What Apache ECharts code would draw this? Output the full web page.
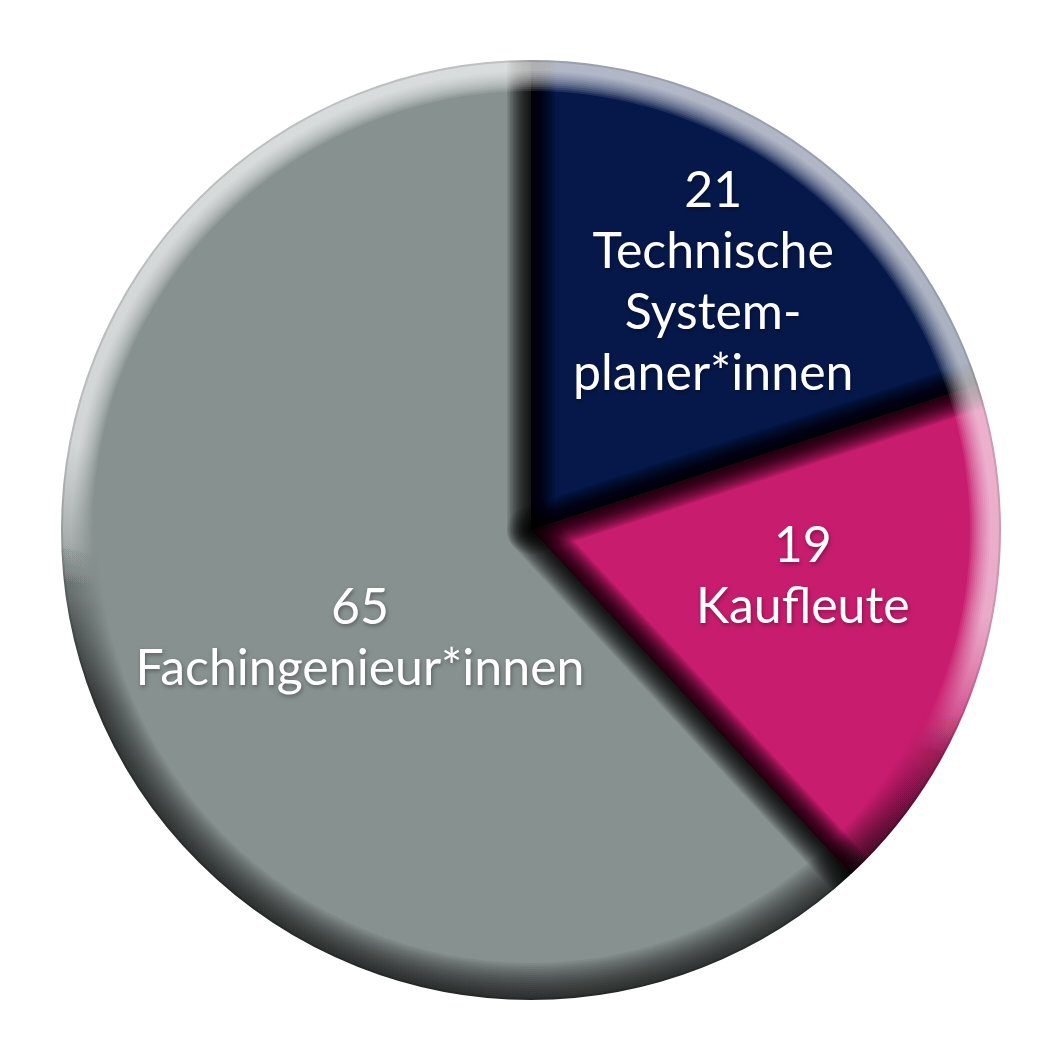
<!DOCTYPE html>
<html><head><meta charset="utf-8">
<script src="https://cdn.jsdelivr.net/npm/echarts@6/dist/echarts.min.js"></script>
<style>html,body{margin:0;padding:0;background:#fff}#c{width:1063px;height:1063px}</style>
</head><body><div id="c"></div>
<script>
const categories = ['Technische\nSystem-\nplaner*innen', 'Kaufleute', 'Fachingenieur*innen'];
const values = [21, 19, 65];
const colors = ['#061849', '#c81c6e', '#879190'];
const labelShift = [[42, -55], [41, -14], [51, 21]];

const CX = 531, CY = 530, R = 471;
const chart = echarts.init(document.getElementById('c'), null, {renderer: 'canvas'});

function pieBase(extra) {
  return Object.assign({
    type: 'pie', center: [CX, CY], startAngle: 90, clockwise: true, silent: true,
    label: {show: false}, labelLine: {show: false}, emphasis: {disabled: true}
  }, extra);
}
function sliceData(style) {
  return categories.map((n, i) => ({name: n, value: values[i], itemStyle: typeof style === 'function' ? style(i) : style}));
}
const series = [];
// base slices
series.push(pieBase({radius: [0, R], data: sliceData(i => ({color: colors[i], borderWidth: 0}))}));
// soft dark bevel along the straight slice edges (outer arc pushed outside and masked)
for (let w = 48; w >= 3; w -= 3) {
  series.push(pieBase({
    radius: [0, R + 30],
    data: sliceData({color: 'rgba(0,0,0,0)', borderColor: 'rgba(0,0,0,0.046)', borderWidth: w, borderJoin: 'round'})
  }));
}
// rim: nested rings that all reach the outer edge, so the effect builds up smoothly
const lightA = 0.1, darkA = 0.062;
for (let d = 32; d >= 11; d -= 2) {
  const lg = {type: 'linear', x: 620, y: 59, x2: 440, y2: 1001, global: true, colorStops: [
    {offset: 0, color: 'rgba(255,255,255,' + lightA + ')'},
    {offset: 0.5, color: 'rgba(255,255,255,' + (lightA * 0.85) + ')'},
    {offset: 0.65, color: 'rgba(255,255,255,0)'},
    {offset: 1, color: 'rgba(255,255,255,0)'}
  ]};
  series.push(pieBase({radius: [R - d, R], data: sliceData({color: lg, borderWidth: 0})}));
}
for (let d = 38; d >= 2; d -= 2) {
  const dg = {type: 'linear', x: 620, y: 59, x2: 440, y2: 1001, global: true, colorStops: [
    {offset: 0, color: 'rgba(0,0,0,0)'},
    {offset: 0.6, color: 'rgba(0,0,0,0)'},
    {offset: 0.76, color: 'rgba(0,0,0,' + (darkA * 0.85) + ')'},
    {offset: 1, color: 'rgba(0,0,0,' + darkA + ')'}
  ]};
  series.push(pieBase({radius: [R - d, R], data: sliceData({color: dg, borderWidth: 0})}));
}
series.push(pieBase({radius: [R - 3, R], data: sliceData({color: 'rgba(0,0,0,0.12)', borderWidth: 0})}));
// clean outer edge
series.push(pieBase({radius: [R, R + 90], data: sliceData({color: '#ffffff', borderColor: '#ffffff', borderWidth: 2})}));
// labels
series.push(pieBase({
  radius: [0, R],
  data: sliceData({color: 'rgba(0,0,0,0)', borderWidth: 0}),
  label: {
    show: true, position: 'inner',
    formatter: p => p.value + '\n' + p.name,
    color: '#ffffff', fontFamily: 'Lato', fontSize: 50, lineHeight: 61, align: 'center',
    textShadowColor: 'rgba(0,0,0,0.35)', textShadowBlur: 4, textShadowOffsetX: 1, textShadowOffsetY: 2
  },
  labelLayout: p => ({dx: labelShift[p.dataIndex][0], dy: labelShift[p.dataIndex][1]})
}));

chart.setOption({animation: false, backgroundColor: '#ffffff', series: series});
</script></body></html>
